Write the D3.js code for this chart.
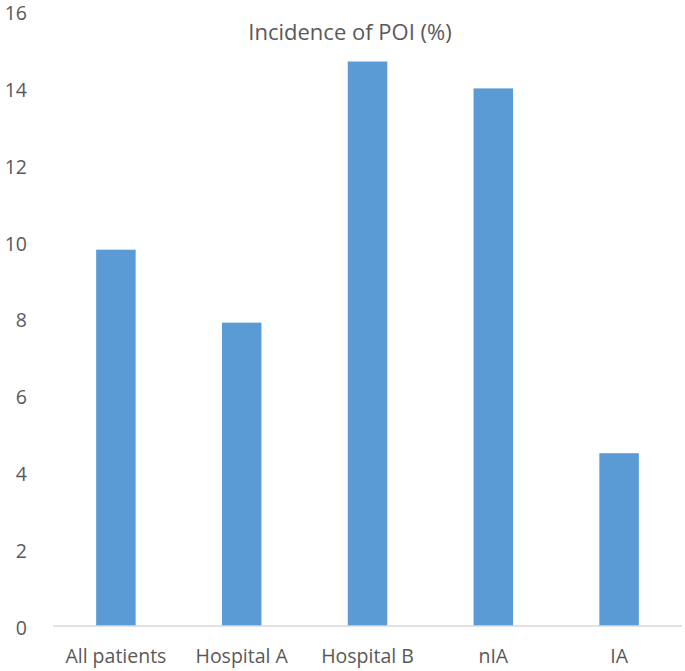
<!DOCTYPE html>
<html>
<head>
<meta charset="utf-8">
<script src="https://cdn.jsdelivr.net/npm/d3@7"></script>
<style>
  body { margin: 0; background: #fff; }
  text { font-family: "Open Sans", "Liberation Sans", sans-serif; fill: #595959; }
</style>
</head>
<body>
<div id="chart"></div>
<script>
// data
var categories = ["All patients", "Hospital A", "Hospital B", "nIA", "IA"];
var values = [9.8, 7.9, 14.7, 14.0, 4.5];
var yTicks = [0, 2, 4, 6, 8, 10, 12, 14, 16];
var title = "Incidence of POI (%)";

var width = 685, height = 671;
var plotLeft = 53, plotRight = 682, plotTop = 11.6, plotBottom = 626;

var svg = d3.select("#chart").append("svg")
    .attr("width", width)
    .attr("height", height);

var x = d3.scaleBand()
    .domain(categories)
    .range([plotLeft, plotRight])
    .paddingInner(0.686)
    .paddingOuter(0.343);

var y = d3.scaleLinear()
    .domain([0, 16])
    .range([plotBottom, plotTop]);

// bars
svg.selectAll("rect.bar")
    .data(values)
  .enter().append("rect")
    .attr("class", "bar")
    .attr("x", function(d, i) { return x(categories[i]); })
    .attr("y", function(d) { return y(d); })
    .attr("width", x.bandwidth())
    .attr("height", function(d) { return y(0) - y(d); })
    .attr("fill", "#5B9BD5");

// x axis line
svg.append("line")
    .attr("x1", plotLeft).attr("x2", plotRight)
    .attr("y1", y(0)).attr("y2", y(0))
    .attr("stroke", "#D9D9D9")
    .attr("stroke-width", 1.5);

// y tick labels
svg.selectAll("text.ytick")
    .data(yTicks)
  .enter().append("text")
    .attr("class", "ytick")
    .attr("x", 27)
    .attr("y", function(d) { return y(d) + 1; })
    .attr("text-anchor", "end")
    .attr("dominant-baseline", "central")
    .style("font-size", "19.5px")
    .text(function(d) { return d; });

// category labels
svg.selectAll("text.xtick")
    .data(categories)
  .enter().append("text")
    .attr("class", "xtick")
    .attr("x", function(d) { return x(d) + x.bandwidth() / 2; })
    .attr("y", 663)
    .attr("text-anchor", "middle")
    .style("font-size", "19.5px")
    .text(function(d) { return d; });

// title
svg.append("text")
    .attr("x", 350)
    .attr("y", 40)
    .attr("text-anchor", "middle")
    .style("font-size", "22px")
    .text(title);
</script>
</body>
</html>
